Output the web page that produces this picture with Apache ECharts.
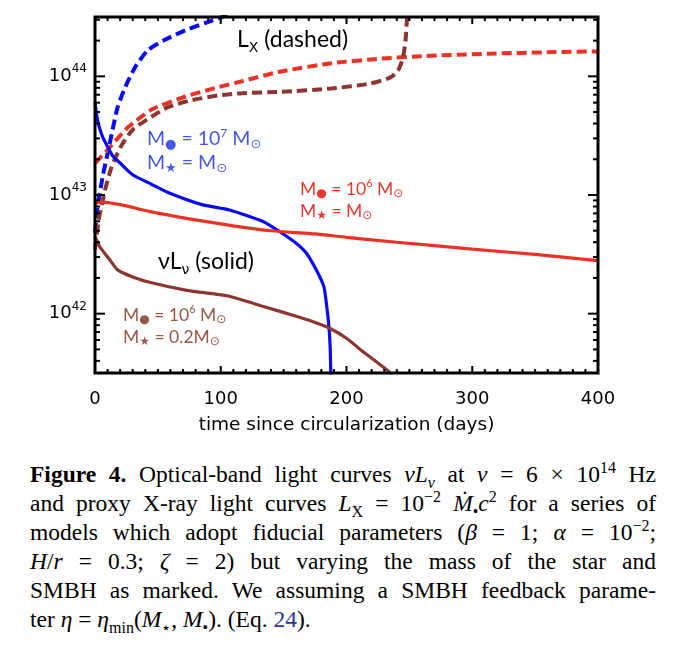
<!DOCTYPE html>
<html>
<head>
<meta charset="utf-8">
<script src="https://cdn.jsdelivr.net/npm/echarts@6/dist/echarts.min.js"></script>
<style>
  body { margin: 0; background: #fff; }
  #main { width: 674px; height: 445px; }
  #cap { position: absolute; left: 30px; top: 460px; width: 626px;
         font-family: "Liberation Serif", "DejaVu Serif", serif; font-size: 23.5px; line-height: 29px; color: #000; }
  #cap .ln { text-align: justify; text-align-last: justify; white-space: nowrap; }
  #cap .ln.last { text-align-last: left; }
  #cap sup, #cap sub { font-size: 0.68em; line-height: 0; }
  #cap .ref { color: #33339a; }
</style>
</head>
<body>
<div id="main"></div>
<div id="cap">
  <div class="ln"><b>Figure 4.</b> Optical-band light curves <i>νL<sub>ν</sub></i> at <i>ν</i> = 6 × 10<sup>14</sup> Hz</div>
  <div class="ln">and proxy X-ray light curves <i>L</i><sub>X</sub> = 10<sup>−2</sup> <i>Ṁ</i><sub>•</sub><i>c</i><sup>2</sup> for a series of</div>
  <div class="ln">models which adopt fiducial parameters (<i>β</i> = 1; <i>α</i> = 10<sup>−2</sup>;</div>
  <div class="ln"><i>H</i>/<i>r</i> = 0.3; <i>ζ</i> = 2) but varying the mass of the star and</div>
  <div class="ln">SMBH as marked. We assuming a SMBH feedback parame-</div>
  <div class="ln last">ter <i>η</i> = <i>η</i><sub>min</sub>(<i>M</i><sub>⋆</sub>, <i>M</i><sub>•</sub>). (Eq. <span class="ref">24</span>).</div>
</div>
<script>
// time since circularization (days) and luminosity (erg/s)
var blueSolidT = [0, 2, 5, 8, 14, 20, 30, 45, 58, 85, 107, 134, 147, 160, 168, 176, 182, 184, 186, 187, 187.5, 188];
var blueSolidL = [6.0e43, 4.3e43, 3.3e43, 2.8e43, 2.14e43, 1.86e43, 1.48e43, 1.23e43, 1.05e43, 8.3e42,
                  7.48e42, 5.96e42, 4.9e42, 3.92e42, 3.24e42, 2.33e42, 1.69e42, 1.22e42, 7.8e41, 5.25e41,
                  3.16e41, 2.0e41];

var blueDashT = [0, 2, 6, 10, 14, 18, 24, 32, 42, 56, 72, 88, 101, 120];
var blueDashL = [4.8e42, 7.9e42, 1.41e43, 2.24e43, 3.55e43, 5.5e43, 8.1e43, 1.2e44, 1.66e44, 2.04e44,
                 2.45e44, 2.82e44, 3.16e44, 3.8e44];

var redSolidT = [0, 3, 20, 45, 75, 110, 140, 175, 200, 240, 300, 350, 400];
var redSolidL = [8.3e42, 8.7e42, 8.3e42, 7.2e42, 6.3e42, 5.5e42, 5.0e42, 4.7e42, 4.4e42, 4.0e42,
                 3.5e42, 3.16e42, 2.8e42];

var redDashT = [0, 10, 18, 26, 45, 72, 98, 117, 148, 188, 228, 260, 312, 365, 400];
var redDashL = [1.86e43, 2.4e43, 3.0e43, 3.7e43, 5.25e43, 6.76e43, 8.1e43, 9.1e43, 1.1e44, 1.29e44,
                1.41e44, 1.48e44, 1.55e44, 1.6e44, 1.62e44];

var brownSolidT = [0, 4, 12, 18, 30, 45, 72, 98, 107, 134, 160, 174, 187, 200, 213, 227, 235, 238];
var brownSolidL = [4.47e42, 3.63e42, 2.82e42, 2.34e42, 2.04e42, 1.82e42, 1.58e42, 1.45e42, 1.40e42,
                   1.15e42, 9.5e41, 8.5e41, 7.5e41, 6.2e41, 4.8e41, 3.7e41, 3.14e41, 2.5e41];

var brownDashT = [0, 3, 8, 13, 20, 30, 45, 58, 77, 98, 117, 148, 188, 219, 235, 241, 245, 247, 248, 249];
var brownDashL = [3.47e42, 6.2e42, 1.1e43, 1.7e43, 2.5e43, 3.55e43, 4.57e43, 5.5e43, 6.3e43, 6.9e43,
                  7.2e43, 7.4e43, 7.9e43, 8.7e43, 9.8e43, 1.12e44, 1.45e44, 2.04e44, 2.95e44, 4.0e44];

var X_MIN = 0, X_MAX = 400;
var Y_MIN = Math.pow(10, 41.5), Y_MAX = Math.pow(10, 44.5);

// tick positions (axis furniture)
var xMajor = [0, 100, 200, 300, 400];
var xMinor = [];
for (var t = 10; t < 400; t += 10) if (t % 100) xMinor.push(t);
var yMajor = [1e42, 1e43, 1e44];
var yMinor = [];
for (var e = 41; e <= 44; e++) {
    for (var k = 2; k <= 9; k++) {
        var v = k * Math.pow(10, e);
        if (v > Y_MIN && v < Y_MAX) yMinor.push(v);
    }
}

var BLUE = '#0a0af5', RED = '#ea3326', BROWN = '#8c3632';

function pairs(t, l) {
    return t.map(function (x, i) { return [x, l[i]]; });
}

function line(name, t, l, color, dashed) {
    return {
        name: name,
        type: 'line',
        data: pairs(t, l),
        showSymbol: false,
        smooth: 0.2,
        clip: true,
        lineStyle: { color: color, width: dashed ? 4 : 3.2, type: dashed ? [10, 5] : 'solid' }
    };
}

// one inward tick per item on one side of the frame, placed through the axes
function ticks(name, vals, side, len) {
    return {
        name: name, type: 'custom', silent: true, clip: false, z: 8,
        encode: { x: 0, y: 1 },
        data: vals.map(function (v) {
            if (side === 'bottom') return [v, Y_MIN];
            if (side === 'top') return [v, Y_MAX];
            if (side === 'left') return [X_MIN, v];
            return [X_MAX, v];
        }),
        renderItem: function (params, api) {
            var p = api.coord([api.value(0), api.value(1)]);
            var s;
            if (side === 'bottom') s = { x: p[0] - 1, y: p[1] - len, width: 2, height: len };
            else if (side === 'top') s = { x: p[0] - 1, y: p[1], width: 2, height: len };
            else if (side === 'left') s = { x: p[0], y: p[1] - 1, width: len, height: 2 };
            else s = { x: p[0] - len, y: p[1] - 1, width: len, height: 2 };
            return { type: 'rect', shape: s, style: { fill: '#000' } };
        }
    };
}

var frame = {
    name: 'frame', type: 'custom', silent: true, clip: false, z: 7,
    encode: { x: [0, 2], y: [1, 3] },
    data: [[X_MIN, Y_MIN, X_MAX, Y_MAX]],
    renderItem: function (params, api) {
        var p0 = api.coord([api.value(0), api.value(3)]);
        var p1 = api.coord([api.value(2), api.value(1)]);
        return { type: 'rect', shape: { x: p0[0], y: p0[1], width: p1[0] - p0[0], height: p1[1] - p0[1] },
                 style: { fill: 'none', stroke: '#000', lineWidth: 3 } };
    }
};

var annFont = 'Lato, "DejaVu Sans", sans-serif';
function ann(x, y, text, color, size, lh, sub) {
    return {
        type: 'text', left: x, top: y, z: 10,
        style: {
            text: text, fill: color, fontSize: size, fontFamily: annFont, lineHeight: lh,
            rich: {
                s: { fontSize: Math.round(size * sub), fontFamily: 'DejaVu Sans', verticalAlign: 'bottom', lineHeight: Math.round(size * 0.6), fill: color },
                p: { fontSize: Math.round(size * 0.62), fontFamily: annFont, verticalAlign: 'top', lineHeight: Math.round(size * 0.6), fill: color }
            }
        }
    };
}

var chartDom = document.getElementById('main');
var myChart = echarts.init(chartDom);
var option;

option = {
    animation: false,
    grid: { left: 95, right: 76, top: 17, bottom: 72 },
    xAxis: {
        type: 'value', min: X_MIN, max: X_MAX, interval: 100,
        axisLine: { show: false }, axisTick: { show: false }, splitLine: { show: false },
        axisLabel: { fontSize: 18, fontFamily: 'DejaVu Sans', color: '#000', margin: 17 },
        name: 'time since circularization (days)',
        nameLocation: 'middle',
        nameGap: 43,
        nameTextStyle: { fontSize: 18.5, fontFamily: 'DejaVu Sans', color: '#000' }
    },
    yAxis: {
        type: 'log', logBase: 10, min: Y_MIN, max: Y_MAX,
        axisLine: { show: false }, axisTick: { show: false }, splitLine: { show: false },
        axisLabel: {
            showMinLabel: false, showMaxLabel: false, margin: 8,
            color: '#000', fontSize: 18, fontFamily: 'DejaVu Sans', lineHeight: 26,
            formatter: function (v) {
                var p = Math.log10(v);
                if (Math.abs(p - Math.round(p)) > 0.01) return '';
                return '10{p|' + Math.round(p) + '}';
            },
            rich: { p: { fontSize: 12, fontFamily: 'DejaVu Sans', verticalAlign: 'top', lineHeight: 14, color: '#000' } }
        }
    },
    series: [
        line('L_X 1e7', blueDashT, blueDashL, BLUE, true),
        line('L_X 1e6', redDashT, redDashL, RED, true),
        line('L_X 1e6 0.2', brownDashT, brownDashL, BROWN, true),
        line('nuLnu 1e7', blueSolidT, blueSolidL, BLUE, false),
        line('nuLnu 1e6', redSolidT, redSolidL, RED, false),
        line('nuLnu 1e6 0.2', brownSolidT, brownSolidL, BROWN, false),
        frame,
        ticks('x major bottom', xMajor, 'bottom', 7),
        ticks('x major top', xMajor, 'top', 7),
        ticks('x minor bottom', xMinor, 'bottom', 4),
        ticks('x minor top', xMinor, 'top', 4),
        ticks('y major left', yMajor, 'left', 10),
        ticks('y major right', yMajor, 'right', 10),
        ticks('y minor left', yMinor, 'left', 5),
        ticks('y minor right', yMinor, 'right', 5)
    ],
    graphic: [
        ann(237, 25, 'L{s|X} (dashed)', '#000', 23, 30, 0.62),
        ann(147, 127, 'M{s|●} = 10{p|7} M{s|⊙}\nM{s|★} = M{s|⊙}', '#4457e6', 19.5, 24, 0.68),
        ann(300, 178, 'M{s|●} = 10{p|6} M{s|⊙}\nM{s|★} = M{s|⊙}', '#e8382c', 17.5, 22, 0.68),
        ann(158, 247, 'νL{s|ν} (solid)', '#000', 23, 30, 0.62),
        ann(123, 304, 'M{s|●} = 10{p|6} M{s|⊙}\nM{s|★} = 0.2M{s|⊙}', '#975845', 17.5, 22, 0.68)
    ]
};

option && myChart.setOption(option);
</script>
</body>
</html>
